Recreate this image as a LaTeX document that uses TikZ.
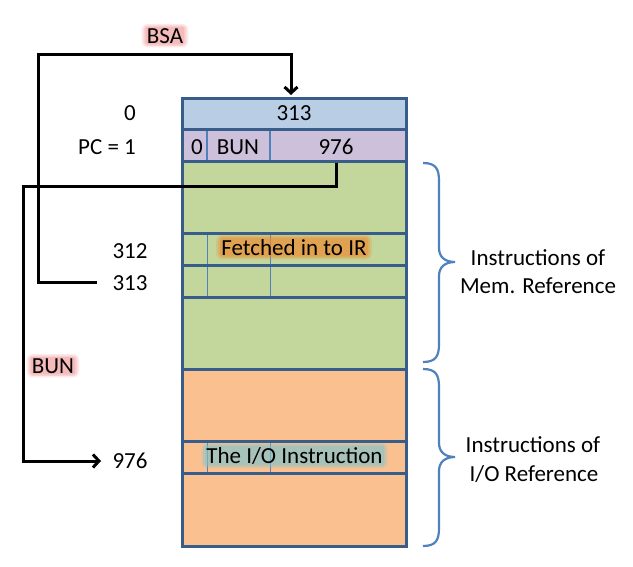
\documentclass[tikz,border=0pt]{standalone}
\usepackage{fontspec}
\setmainfont{Carlito}
\usetikzlibrary{arrows.meta,calc}
\definecolor{cblue}{HTML}{B9CDE5}
\definecolor{cpurple}{HTML}{CCC0DA}
\definecolor{cgreen}{HTML}{C3D69B}
\definecolor{corange}{HTML}{FAC090}
\definecolor{cborder}{HTML}{385D8A}
\definecolor{cthin}{HTML}{4F81BD}
\definecolor{cbrace}{HTML}{4F81BD}
\definecolor{gorange}{HTML}{F08A2C}
\definecolor{gteal}{HTML}{7FC4CF}
\definecolor{gpink}{HTML}{F29A9A}
\pgfdeclarelayer{cells}
\pgfdeclarelayer{glow}
\pgfsetlayers{cells,glow,main}
\newcommand{\glowbox}[2]{%
  \begin{pgfonlayer}{glow}
    \fill[#2, opacity=0.2, rounded corners=6pt] ([xshift=-5pt,yshift=-4pt]#1.south west) rectangle ([xshift=5pt,yshift=4pt]#1.north east);
    \fill[#2, opacity=0.3, rounded corners=4pt] ([xshift=-3pt,yshift=-2.5pt]#1.south west) rectangle ([xshift=3pt,yshift=2.5pt]#1.north east);
    \fill[#2, opacity=0.4, rounded corners=2pt] ([xshift=-1pt,yshift=-1pt]#1.south west) rectangle ([xshift=1pt,yshift=1pt]#1.north east);
  \end{pgfonlayer}}
\newcommand{\mybrace}[3]{%
  \draw[bracestyle] (423,#1) .. controls (436,#1) and (439,#1+6) .. (439,#1+18) -- (439,#3-14)
    .. controls (439,#3-5) and (445,#3) .. (455,#3)
    .. controls (445,#3) and (439,#3+5) .. (439,#3+14) -- (439,#2-18)
    .. controls (439,#2-6) and (436,#2) .. (423,#2);}
\begin{document}
\begin{tikzpicture}[x=1pt,y=-1pt,
  lbl/.style={font=\fontsize{23}{27}\selectfont, inner sep=0pt, anchor=base},
  border/.style={draw=cborder, line width=3pt},
  thinline/.style={draw=cthin, line width=1pt},
  midline/.style={draw=cthin, line width=1.5pt},
  conn/.style={line width=3pt, -{Straight Barb[length=6pt,width=13pt]}},
  bracestyle/.style={draw=cbrace, line width=2.2pt}]
\useasboundingbox (0,0) rectangle (633,566);
\begin{pgfonlayer}{cells}
  \fill[white] (0,0) rectangle (633,566);
  \fill[cblue] (182,98) rectangle (406,129);
  \fill[cpurple] (182,129) rectangle (406,161);
  \fill[cgreen] (182,161) rectangle (406,369);
  \fill[corange] (182,369) rectangle (406,546);
  \draw[midline] (207,129) -- (207,161);
  \draw[midline] (270,129) -- (270,161);
  \draw[thinline] (207,233) -- (207,297);
  \draw[thinline] (270,233) -- (270,297);
  \draw[thinline] (207,441) -- (207,473);
  \draw[thinline] (270,441) -- (270,473);
  \foreach \yy in {129,161,233,265,297,369,441,473}
    \draw[border] (182,\yy) -- (406,\yy);
  \draw[border] (182,98) rectangle (406,546);
\end{pgfonlayer}
% cell texts
\node[lbl] (t313) at (294,120) {313};
\node[lbl] (tzero) at (197,154) {0};
\node[lbl] (tbun) at (238,154) {BUN};
\node[lbl] (t976) at (336,154) {976};
\node[lbl] (fetch) at (294,255) {Fetched in to IR};
\node[lbl] (iotext) at (294.5,463) {The I/O Instruction};
\glowbox{fetch}{gorange}
\glowbox{iotext}{gteal}
% address labels
\node[lbl] (azero) at (130,120) {0};
\node[lbl] (pc) at (107,154) {PC = 1};
\node[lbl] (a312) at (130,258) {312};
\node[lbl] (a313) at (130,290) {313};
\node[lbl] (a976) at (130,468) {976};
% arrow labels
\node[lbl] (bsa) at (165,43) {BSA};
\node[lbl] (bunl) at (53,373) {BUN};
\glowbox{bsa}{gpink}
\glowbox{bunl}{gpink}
% connectors
\coordinate (bsaS) at (97,282);
\coordinate (bsaE) at (291,95);
\draw[conn] (bsaS) -| (38,54) -| (bsaE);
\coordinate (bunS) at (336,163);
\coordinate (bunE) at (101,461);
\draw[conn] (bunS) |- (23,186) |- (bunE);
% braces
\mybrace{163}{362}{262}
\mybrace{369}{546}{457}
\node[lbl] (mem1) at (538,265) {Instructions of};
\node[lbl] (mem2) at (538,293) {Mem. Reference};
\node[lbl] (io1) at (533,452) {Instructions of};
\node[lbl] (io2) at (534,481) {I/O Reference};
\end{tikzpicture}
\end{document}
